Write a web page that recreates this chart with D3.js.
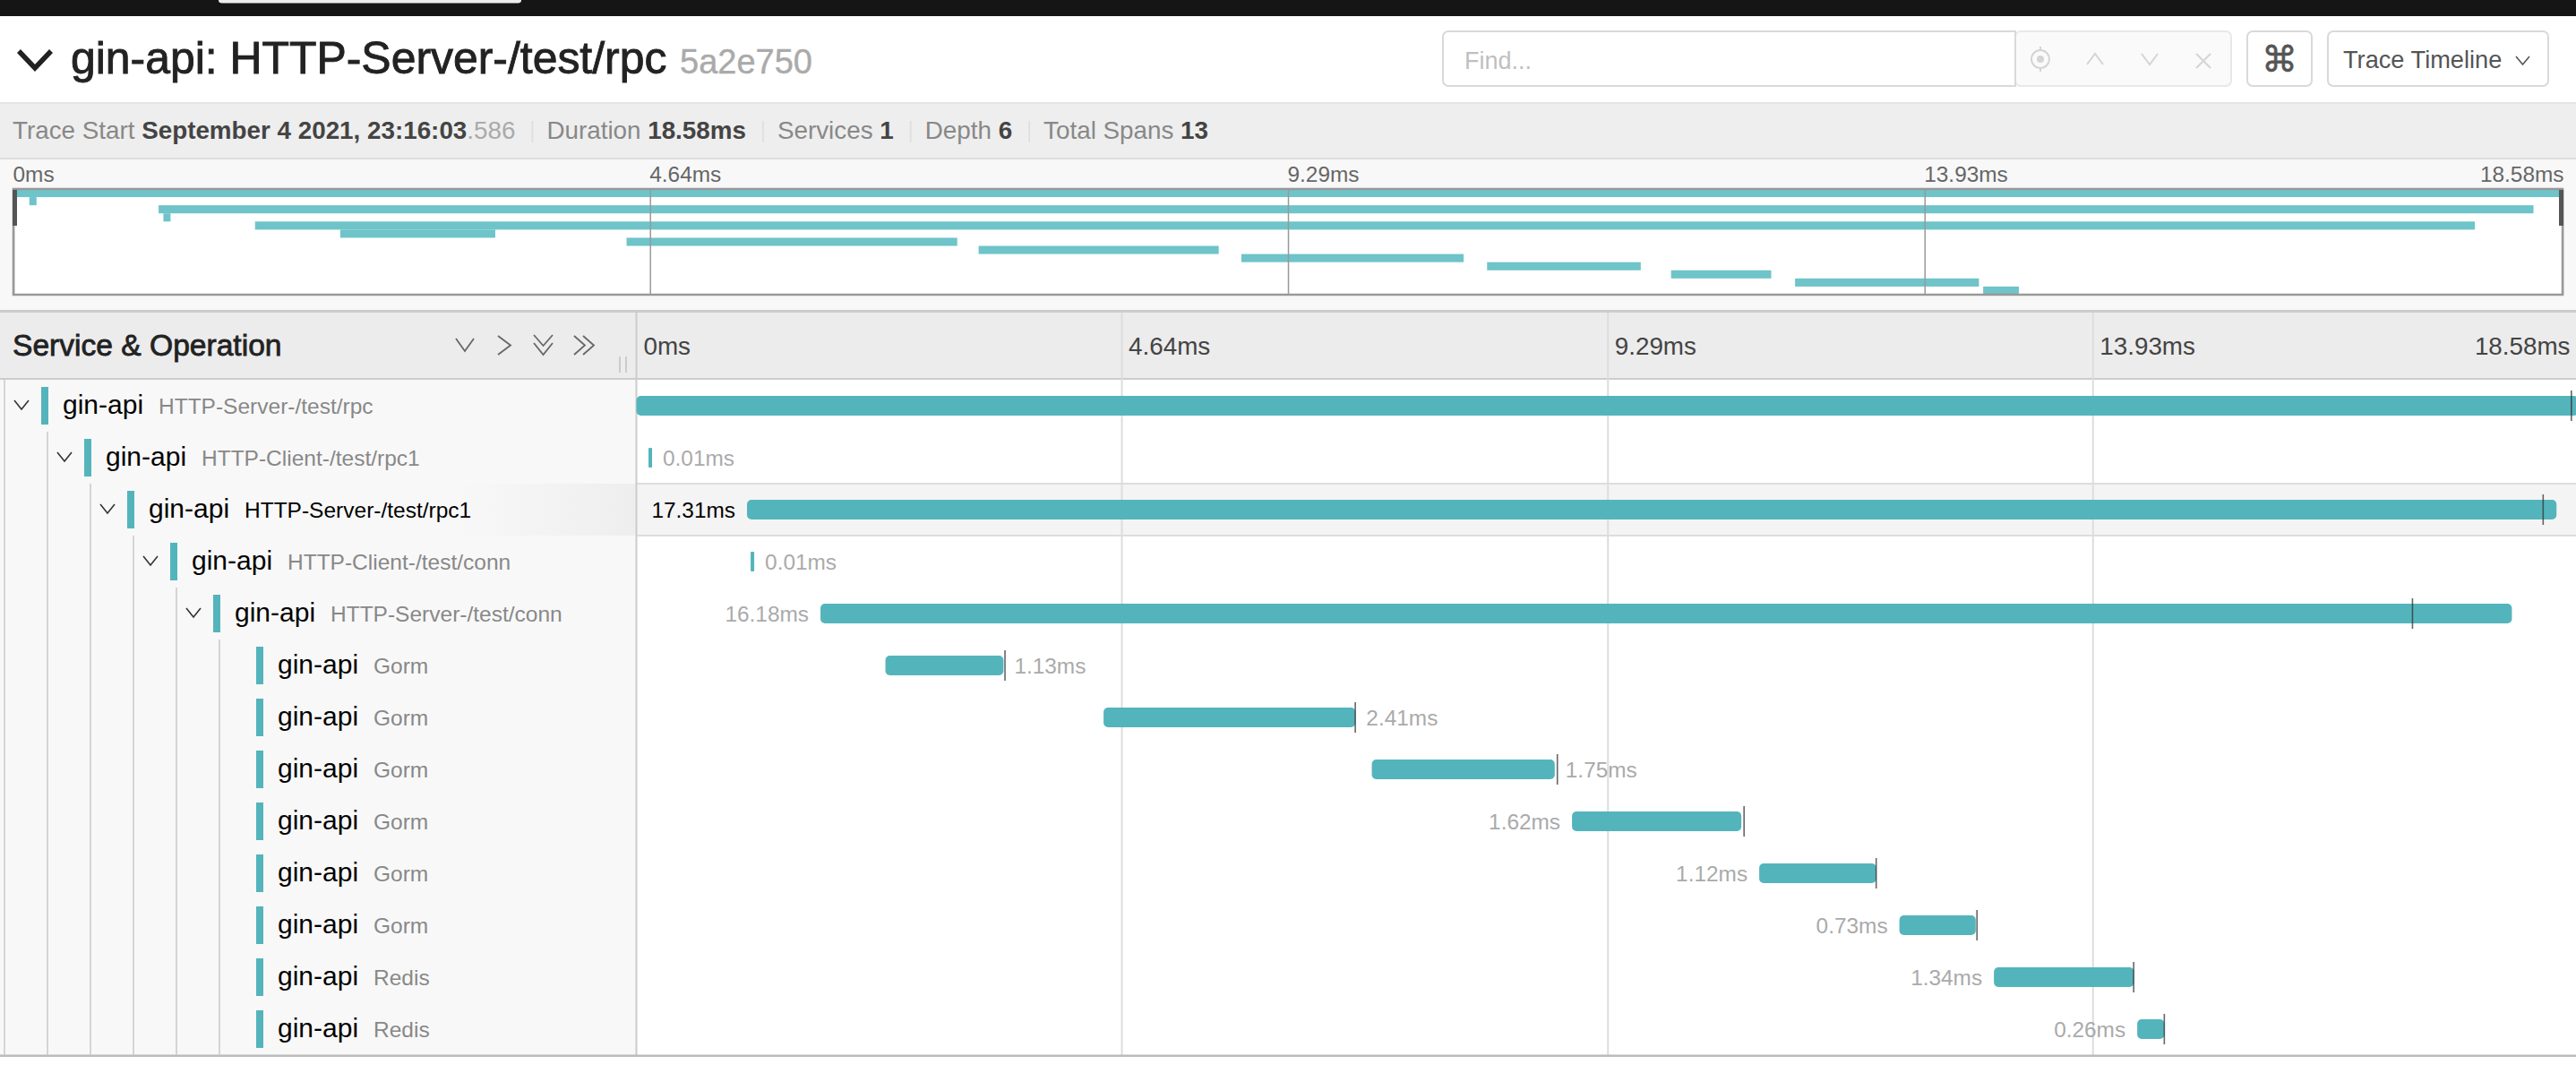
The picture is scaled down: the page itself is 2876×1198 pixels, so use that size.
<!DOCTYPE html>
<html>
<head>
<meta charset="utf-8">
<title>gin-api trace</title>
<script src="https://cdn.jsdelivr.net/npm/d3@7"></script>
<style>
  html, body { margin: 0; padding: 0; background: #fff; overflow: hidden; }
  svg { display: block; }
  text { font-family: "Liberation Sans", Arial, sans-serif; }
</style>
</head>
<body>
<svg id="chart" width="2876" height="1198"></svg>
<script>
// Trace data (all times in ms)
const traceDuration = 18.58;
const timeTicks = [0, 4.64, 9.29, 13.93, 18.58];
const timeTickLabels = ['0ms', '4.64ms', '9.29ms', '13.93ms', '18.58ms'];

const services = ['gin-api', 'gin-api', 'gin-api', 'gin-api', 'gin-api', 'gin-api', 'gin-api',
  'gin-api', 'gin-api', 'gin-api', 'gin-api', 'gin-api', 'gin-api'];
const operations = ['HTTP-Server-/test/rpc', 'HTTP-Client-/test/rpc1', 'HTTP-Server-/test/rpc1',
  'HTTP-Client-/test/conn', 'HTTP-Server-/test/conn', 'Gorm', 'Gorm', 'Gorm', 'Gorm', 'Gorm',
  'Gorm', 'Redis', 'Redis'];
const depths = [0, 1, 2, 3, 4, 5, 5, 5, 5, 5, 5, 5, 5];
const spanStarts = [0, 0.116, 1.058, 1.093, 1.761, 2.382, 4.469, 7.035, 8.95, 10.741, 12.082, 12.986, 14.357];
const spanDurations = [18.58, 0.01, 17.31, 0.01, 16.18, 1.13, 2.41, 1.75, 1.62, 1.12, 0.73, 1.34, 0.26];
const labelSides = ['none', 'right', 'left', 'right', 'left', 'right', 'right', 'right', 'left', 'left', 'left', 'left', 'left'];
const logTicks = [18.51, null, 18.24, null, 16.99, 3.526, 6.877, 8.81, 10.596, 11.86, 12.824, 14.323, 14.616];

const summaryLabels = ['Duration', 'Services', 'Depth', 'Total Spans'];
const summaryValues = ['18.58ms', '1', '6', '13'];

const TEAL = '#54b4bc';
const svg = d3.select('#chart');
const rowIndex = d3.range(services.length);

function rect(parent, x, y, w, h, fill) {
  return parent.append('rect').attr('x', x).attr('y', y).attr('width', w).attr('height', h).attr('fill', fill);
}

function label(parent, x, y, str, size, fill) {
  return parent.append('text').attr('x', x).attr('y', y).attr('font-size', size).attr('fill', fill).text(str);
}

function strokePath(parent, d, color, width) {
  return parent.append('path').attr('d', d).attr('fill', 'none').attr('stroke', color).attr('stroke-width', width);
}

function chevronDown(x0, x1, y0, y1) {
  return `M${x0},${y0}L${(x0 + x1) / 2},${y1}L${x1},${y0}`;
}

function chevronRight(x0, x1, y0, y1) {
  return `M${x0},${y0}L${x1},${(y0 + y1) / 2}L${x0},${y1}`;
}

// Top nav strip
rect(svg, 0, 0, 2876, 18, '#151515');
svg.append('path').attr('d', 'M244,0H582V0.5Q582,3.5 578,3.5H248Q244,3.5 244,0.5Z').attr('fill', '#ececec');

// Title row
strokePath(svg, chevronDown(21, 57, 57, 76), '#222', 5.5);
label(svg, 79, 82, 'gin-api: HTTP-Server-/test/rpc', 49.9, '#222').attr('stroke', '#222').attr('stroke-width', 0.9);
label(svg, 759, 82, '5a2e750', 38, '#aaa').attr('stroke', '#aaa').attr('stroke-width', 0.4);

// Find box and buttons
svg.append('rect').attr('x', 2250).attr('y', 35).attr('width', 241).attr('height', 61).attr('rx', 6)
  .attr('fill', '#fafafa').attr('stroke', '#e8e8e8').attr('stroke-width', 2);
svg.append('path').attr('d', 'M2250,35H1617a6,6 0 0 0 -6,6V90a6,6 0 0 0 6,6H2250Z')
  .attr('fill', '#fff').attr('stroke', '#d9d9d9').attr('stroke-width', 2);
label(svg, 1635, 77, 'Find...', 27, '#bfbfbf');
const findIcons = svg.append('g');
findIcons.append('circle').attr('cx', 2278).attr('cy', 66).attr('r', 10).attr('fill', 'none').attr('stroke', '#d4d4d4').attr('stroke-width', 2);
findIcons.append('circle').attr('cx', 2278).attr('cy', 66).attr('r', 4).attr('fill', '#d4d4d4');
strokePath(findIcons, 'M2278,52V57M2278,75V80', '#d4d4d4', 2);
strokePath(findIcons, 'M2330,72L2339,60L2348,72', '#d4d4d4', 2);
strokePath(findIcons, chevronDown(2391, 2409, 60, 72), '#d4d4d4', 2);
strokePath(findIcons, 'M2452,60L2468,76M2468,60L2452,76', '#d4d4d4', 2);

svg.append('rect').attr('x', 2509).attr('y', 35).attr('width', 72).attr('height', 61).attr('rx', 6)
  .attr('fill', '#fff').attr('stroke', '#d9d9d9').attr('stroke-width', 2);
label(svg, 2545, 80, '⌘', 40, '#555').attr('text-anchor', 'middle')
  .style('font-family', 'DejaVu Sans').attr('stroke', '#555').attr('stroke-width', 0.6);
svg.append('rect').attr('x', 2599).attr('y', 35).attr('width', 246).attr('height', 61).attr('rx', 6)
  .attr('fill', '#fff').attr('stroke', '#d9d9d9').attr('stroke-width', 2);
label(svg, 2616, 76, 'Trace Timeline', 27.2, '#555');
strokePath(svg, chevronDown(2809, 2824, 63, 72), '#555', 1.6);

// Summary strip
rect(svg, 0, 114, 2876, 64, '#eeeeee');
rect(svg, 0, 114, 2876, 2, '#e4e4e4');
rect(svg, 0, 176, 2876, 2, '#dddddd');

const summary = label(svg, 14, 155, null, 27.8, '#888');
summary.append('tspan').text('Trace Start ');
summary.append('tspan').attr('font-weight', 'bold').attr('fill', '#444').text('September 4 2021, 23:16:03');
summary.append('tspan').attr('fill', '#aaa').text('.586');

let flowX = 14 + summary.node().getComputedTextLength();
summaryLabels.forEach((name, i) => {
  rect(svg, flowX + 18, 135, 2, 24, '#e0e0e0');
  const item = label(svg, flowX + 35, 155, null, 27.8, '#888');
  item.append('tspan').text(name + ' ');
  item.append('tspan').attr('font-weight', 'bold').attr('fill', '#444').text(summaryValues[i]);
  flowX += 35 + item.node().getComputedTextLength();
});

// Minimap
rect(svg, 0, 178, 2876, 168, '#f8f8f8');
const miniX = d3.scaleLinear().domain([0, traceDuration]).range([15, 2861]);
const miniY = d3.scaleBand().domain(rowIndex).range([211, 329]);
rect(svg, 15, 211, 2846, 118, '#fff');

svg.append('g').selectAll('rect')
  .data(rowIndex)
  .join('rect')
  .attr('x', (i) => miniX(spanStarts[i]))
  .attr('y', (i) => miniY(i))
  .attr('width', (i) => Math.max(8, miniX(spanStarts[i] + spanDurations[i]) - miniX(spanStarts[i])))
  .attr('height', miniY.bandwidth())
  .attr('fill', '#6ec4c9');

const miniAxis = svg.append('g')
  .attr('transform', 'translate(0,211)')
  .call(d3.axisBottom(miniX).tickValues(timeTicks).tickSize(118).tickFormat((d, i) => timeTickLabels[i]));
miniAxis.select('.domain').remove();
miniAxis.selectAll('line').attr('stroke', '#999').attr('stroke-width', 1.5);
miniAxis.selectAll('text')
  .attr('y', -8).attr('dy', 0).attr('font-size', 24.4).attr('fill', '#666')
  .attr('text-anchor', (d, i) => (i === timeTicks.length - 1 ? 'end' : 'start'))
  .attr('dx', (d, i) => (i === timeTicks.length - 1 ? 1 : -1));

svg.append('rect').attr('x', 15).attr('y', 211).attr('width', 2846).attr('height', 118)
  .attr('fill', 'none').attr('stroke', '#999').attr('stroke-width', 2.5);
rect(svg, 14, 212, 5, 40, '#555');
rect(svg, 2857, 212, 5, 40, '#555');

// Main timeline
const x = d3.scaleLinear().domain([0, traceDuration]).range([710.5, 2879]);
const y = d3.scaleBand().domain(rowIndex).range([424, 1178]);
const rowH = y.bandwidth();

rect(svg, 0, 346, 2876, 3, '#cccccc');
rect(svg, 0, 349, 2876, 73, '#ececec');
rect(svg, 0, 422, 2876, 2, '#cccccc');
rect(svg, 0, 424, 710, 754, '#f8f8f8');

// Hovered row background
const defs = svg.append('defs');
const hoverFade = defs.append('linearGradient').attr('id', 'hover-fade');
hoverFade.append('stop').attr('offset', '0.72').attr('stop-color', '#eeeeee').attr('stop-opacity', 0);
hoverFade.append('stop').attr('offset', '1').attr('stop-color', '#eeeeee').attr('stop-opacity', 1);
rect(svg, 0, y(2), 710, rowH, 'url(#hover-fade)');
rect(svg, 710, y(2), 2166, rowH, '#f4f4f4');
rect(svg, 710, y(2) - 1, 2166, 2, '#dddddd');
rect(svg, 710, y(2) + rowH - 1, 2166, 2, '#dddddd');

const mainAxis = svg.append('g')
  .attr('transform', 'translate(0,349)')
  .call(d3.axisBottom(x).tickValues(timeTicks).tickSize(829).tickFormat((d, i) => timeTickLabels[i]));
mainAxis.select('.domain').remove();
mainAxis.selectAll('line')
  .attr('stroke', '#dddddd').attr('stroke-width', 2)
  .attr('display', (d, i) => (i === 0 || i === timeTicks.length - 1 ? 'none' : null));
mainAxis.selectAll('text')
  .attr('y', 47).attr('dy', 0).attr('font-size', 27.8).attr('fill', '#444')
  .attr('text-anchor', (d, i) => (i === timeTicks.length - 1 ? 'end' : 'start'))
  .attr('dx', (d, i) => (i === timeTicks.length - 1 ? -10 : 7.5));

rect(svg, 709.5, 349, 2, 829, '#cccccc');
rect(svg, 0, 1177.5, 2876, 2.5, '#bbbbbb');

// Header controls of the left column
label(svg, 14, 397, 'Service & Operation', 33.6, '#222').attr('stroke', '#222').attr('stroke-width', 0.8);
strokePath(svg, chevronDown(509, 529, 378, 392), '#666', 1.8);
strokePath(svg, chevronRight(556, 570, 375, 396), '#666', 1.8);
strokePath(svg, chevronDown(596, 617, 374, 386) + chevronDown(596, 617, 383, 396), '#666', 1.8);
strokePath(svg, chevronRight(641, 653, 375, 396) + chevronRight(651, 663, 375, 396), '#666', 1.8);
strokePath(svg, 'M692,398V416M699,398V416', '#cccccc', 2);

// Tree guide lines: one per depth, from the first row below that depth
const guideDepths = d3.range(d3.max(depths) + 1);
svg.append('g').selectAll('line')
  .data(guideDepths)
  .join('line')
  .attr('x1', (d) => 5 + d * 48)
  .attr('x2', (d) => 5 + d * 48)
  .attr('y1', (d) => y(d))
  .attr('y2', 1178)
  .attr('stroke', '#cccccc')
  .attr('stroke-width', 1.6);

// Rows
const rows = svg.append('g').selectAll('g')
  .data(rowIndex)
  .join('g')
  .attr('transform', (i) => `translate(0,${y(i)})`);

rows.filter((i) => i < 5)
  .append('path')
  .attr('d', (i) => chevronDown(16 + depths[i] * 48, 32 + depths[i] * 48, 23, 33))
  .attr('fill', 'none')
  .attr('stroke', '#333')
  .attr('stroke-width', 1.6);

rows.append('rect')
  .attr('x', (i) => 46 + depths[i] * 48)
  .attr('y', 8)
  .attr('width', 8)
  .attr('height', 42)
  .attr('fill', TEAL);

rows.append('text')
  .attr('x', (i) => 70 + depths[i] * 48)
  .attr('y', 37.5)
  .attr('font-size', 30)
  .attr('fill', '#000')
  .text((i) => services[i]);

rows.append('text')
  .attr('x', (i) => 177 + depths[i] * 48)
  .attr('y', 37.5)
  .attr('font-size', 24.5)
  .attr('fill', (i) => (i === 2 ? '#000' : '#888'))
  .text((i) => operations[i]);

rows.append('rect')
  .attr('x', (i) => x(spanStarts[i]))
  .attr('y', 18)
  .attr('width', (i) => Math.max(4, x(spanStarts[i] + spanDurations[i]) - x(spanStarts[i])))
  .attr('height', 22)
  .attr('rx', (i) => (spanDurations[i] < 0.1 ? 1 : 5))
  .attr('fill', TEAL);

rows.filter((i) => logTicks[i] !== null)
  .append('line')
  .attr('x1', (i) => x(logTicks[i]))
  .attr('x2', (i) => x(logTicks[i]))
  .attr('y1', 12)
  .attr('y2', 46)
  .attr('stroke', '#333')
  .attr('stroke-opacity', 0.75)
  .attr('stroke-width', 1.6);

rows.filter((i) => labelSides[i] !== 'none')
  .append('text')
  .attr('x', (i) => (labelSides[i] === 'left'
    ? x(spanStarts[i]) - 13
    : x(spanStarts[i]) + Math.max(4, x(spanStarts[i] + spanDurations[i]) - x(spanStarts[i])) + 12))
  .attr('y', 38)
  .attr('text-anchor', (i) => (labelSides[i] === 'left' ? 'end' : 'start'))
  .attr('font-size', 24.4)
  .attr('fill', (i) => (i === 2 ? '#000' : '#aaa'))
  .text((i) => `${spanDurations[i]}ms`);
</script>
</body>
</html>
